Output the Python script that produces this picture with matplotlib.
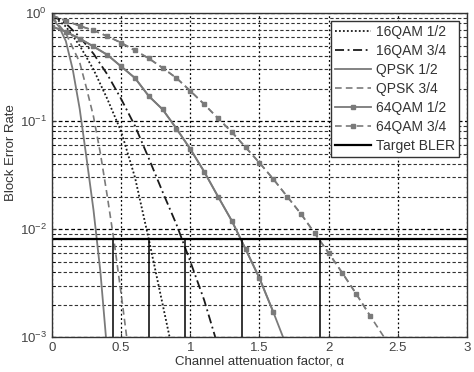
import matplotlib
matplotlib.use("Agg")
import matplotlib.pyplot as plt
import numpy as np

plt.rcParams['font.family'] = ['Liberation Sans', 'DejaVu Sans']
plt.rcParams['mathtext.default'] = 'regular'

# ---- data ----
qpsk12_x = [0, 0.05, 0.1, 0.15, 0.2, 0.25, 0.3, 0.35, 0.39]
qpsk12_y = [0.9, 0.75, 0.55, 0.3, 0.13, 0.045, 0.015, 0.004, 0.001]

qpsk34_x = [0, 0.1, 0.2, 0.25, 0.3, 0.35, 0.4, 0.45, 0.5, 0.54]
qpsk34_y = [0.92, 0.65, 0.35, 0.2, 0.11, 0.05, 0.02, 0.0075, 0.0025, 0.001]

qam16_12_x = [0, 0.1, 0.2, 0.3, 0.4, 0.5, 0.6, 0.7, 0.8, 0.85]
qam16_12_y = [0.95, 0.75, 0.5, 0.3, 0.16, 0.08, 0.03, 0.008, 0.002, 0.001]

qam16_34_x = [0, 0.1, 0.2, 0.3, 0.4, 0.5, 0.6, 0.7, 0.8, 0.9, 1.0, 1.1, 1.18]
qam16_34_y = [0.95, 0.8, 0.6, 0.42, 0.27, 0.16, 0.09, 0.045, 0.022, 0.011,
              0.005, 0.0022, 0.001]

qam64_12_x = [0, 0.1, 0.2, 0.3, 0.4, 0.5, 0.6, 0.7, 0.8, 0.9, 1.0, 1.1, 1.2,
              1.3, 1.4, 1.5, 1.6, 1.67]
qam64_12_y = [0.75, 0.67, 0.58, 0.49, 0.41, 0.32, 0.25, 0.17, 0.128, 0.085,
              0.055, 0.034, 0.020, 0.0119, 0.0065, 0.0035, 0.0017, 0.001]

qam64_34_x = [0, 0.1, 0.2, 0.3, 0.4, 0.5, 0.6, 0.7, 0.8, 0.9, 1.0, 1.1, 1.2,
              1.3, 1.4, 1.5, 1.6, 1.7, 1.8, 1.9, 2.0, 2.1, 2.2, 2.3, 2.4]
qam64_34_y = [0.95, 0.85, 0.76, 0.69, 0.61, 0.53, 0.45, 0.38, 0.31, 0.25,
              0.19, 0.143, 0.106, 0.079, 0.057, 0.041, 0.029, 0.020, 0.0138,
              0.0091, 0.006, 0.0039, 0.0025, 0.00157, 0.001]

target_bler = 0.008
target_cross = [0.44, 0.70, 0.96, 1.37, 1.94]

xticks = [0, 0.5, 1, 1.5, 2, 2.5, 3]
xticklabels = ['0', '0.5', '1', '1.5', '2', '2.5', '3']

# ---- figure ----
fig = plt.figure(figsize=(4.74, 3.72), dpi=100)
ax = fig.add_axes([0.1097, 0.094, 0.8755, 0.871])

gray = '#7a7a7a'
dark = '#1a1a1a'

ax.plot(qam16_12_x, qam16_12_y, color=dark, lw=1.3, ls=(0, (1, 1.2)), label='16QAM 1/2')
ax.plot(qam16_34_x, qam16_34_y, color=dark, lw=1.3, ls=(0, (5, 2, 1, 2)), label='16QAM 3/4')
ax.plot(qpsk12_x, qpsk12_y, color=gray, lw=1.3, ls='-', label='QPSK 1/2')
ax.plot(qpsk34_x, qpsk34_y, color=gray, lw=1.2, ls=(0, (4, 2.5)), label='QPSK 3/4')
ax.plot(qam64_12_x[:-1], qam64_12_y[:-1], color=gray, lw=1.3, ls='-', marker='s',
        ms=3.5, mfc=gray, mec=gray, label='64QAM 1/2')
ax.plot(qam64_12_x, qam64_12_y, color=gray, lw=1.3, ls='-')
ax.plot(qam64_34_x[:-1], qam64_34_y[:-1], color=gray, lw=1.2, ls=(0, (4, 2.5)), marker='s',
        ms=3.5, mfc=gray, mec=gray, label='64QAM 3/4')
ax.plot(qam64_34_x, qam64_34_y, color=gray, lw=1.2, ls=(0, (4, 2.5)))
ax.axhline(target_bler, color='black', lw=1.6, label='Target BLER')
ax.vlines(target_cross, 1e-3, target_bler, colors='black', lw=1.1)

ax.set_yscale('log')
ax.set_xlim(0, 3)
ax.set_ylim(1e-3, 1)
ax.set_xticks(xticks)
ax.set_xticklabels(xticklabels)

ax.grid(True, which='major', axis='x', color='black', ls=(0, (1.5, 2)), lw=0.9)
ax.grid(True, which='major', axis='y', color='black', ls=(0, (3, 2)), lw=0.9)
ax.grid(True, which='minor', axis='y', color='#333333', ls=(0, (3, 2)), lw=0.8)

ax.tick_params(axis='both', which='major', labelsize=9.5, direction='in', length=3,
               colors='#333333', labelcolor='#444444')
ax.tick_params(axis='y', which='minor', direction='in', length=2)
for s in ax.spines.values():
    s.set_color('#333333')
    s.set_linewidth(1.0)

ax.set_ylabel('Block Error Rate', fontsize=9.5, color='#333333')
ax.yaxis.set_label_coords(-0.085, 0.57)
ax.set_xlabel('Channel attenuation factor, α', fontsize=9.5, color='#333333', labelpad=1)

leg = ax.legend(loc='upper right', frameon=True, fancybox=False,
                prop={'size': 10},
                edgecolor='#333333', framealpha=1, handlelength=2.6,
                borderpad=0.3, labelspacing=0.36, handletextpad=0.35,
                borderaxespad=0.55)
leg.get_frame().set_linewidth(1.0)
for t in leg.get_texts():
    t.set_color('#333333')

fig.savefig('out.png', dpi=100)
